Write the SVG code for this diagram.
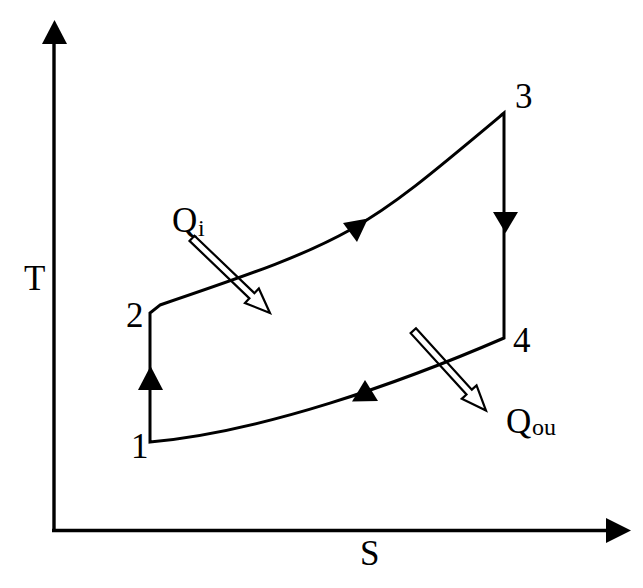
<svg xmlns="http://www.w3.org/2000/svg" width="643" height="588" viewBox="0 0 643 588">
<style>
.ln{fill:none;stroke:#000;stroke-width:3;stroke-linejoin:miter}
.ax{fill:none;stroke:#000;stroke-width:3.4}
.ah{fill:#000;stroke:none}
.q{fill:none;stroke:#000;stroke-width:2.2;stroke-linejoin:miter}
.t{font-family:"Liberation Serif","Times New Roman",serif;font-size:35px;fill:#000}
.s{font-family:"Liberation Serif","Times New Roman",serif;font-size:24px;fill:#000}
</style>
<rect width="643" height="588" fill="#fff"/>
<g id="axes">
<line class="ax" x1="54" y1="532" x2="54" y2="42"/>
<polygon class="ah" points="42,44 67,44 54.5,20"/>
<line class="ax" x1="52" y1="530.5" x2="608" y2="530.5"/>
<polygon class="ah" points="606,518 606,543 631,530.5"/>
<text class="t" x="24" y="290">T</text>
<text class="t" x="360" y="565">S</text>
</g>
<g id="connectors">
<path class="ln" d="M150,442 V313 L160,305 C355,239 362,232 504,113 V338 C400,383 262,432 150,442 Z"/>
<polygon class="ah" points="138,390 163,390 150.5,366"/>
<polygon class="ah" points="343,223 368,218.5 357,242"/>
<polygon class="ah" points="493,212 518,212 505.5,233"/>
<polygon class="ah" points="365,380 378,401 352,401.5"/>
</g>
<g id="node-1"><text class="t" x="131" y="458">1</text></g>
<g id="node-2"><text class="t" x="126" y="327">2</text></g>
<g id="node-3"><text class="t" x="515" y="108">3</text></g>
<g id="node-4"><text class="t" x="513" y="352">4</text></g>
<g id="heat-in">
<text class="t" x="172" y="232">Q</text><text class="s" x="198" y="236">i</text>
<polygon class="q" transform="translate(192,238.3) rotate(43.8)" points="0,-3.6 83,-3.6 83,-10 108,0 83,10 83,3.6 0,3.6"/>
</g>
<g id="heat-out">
<text class="t" x="506" y="433">Q</text><text class="s" x="532" y="435">ou</text>
<polygon class="q" transform="translate(413.3,330.7) rotate(47.7)" points="0,-3.6 83,-3.6 83,-10 108,0 83,10 83,3.6 0,3.6"/>
</g>
</svg>
